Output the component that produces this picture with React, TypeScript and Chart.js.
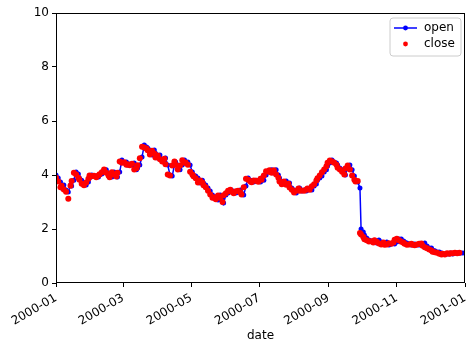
import React, { useEffect, useRef } from "react";
import { Chart, registerables } from "chart.js";

Chart.register(...registerables);

// Day offsets from 2000-01-01
const days = [0,2,4,5,7,9,11,13,14,16,18,20,21,23,25,27,29,30,32,34,36,38,39,41,43,45,47,48,50,52,54,55,57,59,61,63,64,66,68,70,72,73,75,77,79,81,82,84,86,88,89,91,93,95,97,98,100,102,104,106,107,109,111,113,115,116,118,120,122,123,125,127,129,131,132,134,136,138,140,141,143,145,147,149,150,152,154,156,157,159,161,163,165,166,168,170,172,174,175,177,179,181,183,184,186,188,190,191,193,195,197,199,200,202,204,206,208,209,211,213,215,217,218,220,222,224,225,227,229,231,233,234,236,238,240,242,243,245,247,249,251,252,254,256,258,259,261,263,265,267,268,270,272,273,275,276,278,280,282,284,285,287,289,291,293,294,296,298,300,302,303,305,307,309,311,312,314,316,318,319,321,323,325,327,328,330,332,334,336,337,339,341,343,345,346,348,350,352,353,355,357,359,361,362,364];

const openValues = [4.0,3.89,3.74,3.52,3.63,3.44,3.37,3.63,3.59,3.81,4.11,4.04,3.89,3.81,3.70,3.63,3.74,3.89,4.0,3.96,3.96,3.93,4.0,4.04,4.11,4.19,4.07,3.96,3.93,4.11,4.0,3.93,4.11,4.56,4.44,4.48,4.37,4.41,4.37,4.44,4.19,4.26,4.37,4.67,5.11,5.04,5.0,4.93,4.74,4.93,4.81,4.63,4.74,4.56,4.48,4.63,4.37,4.0,3.96,4.37,4.48,4.37,4.19,4.37,4.56,4.44,4.48,4.37,4.11,4.0,3.96,3.89,3.70,3.81,3.70,3.63,3.52,3.41,3.26,3.15,3.19,3.07,3.26,3.15,2.96,3.26,3.33,3.44,3.44,3.37,3.33,3.41,3.44,3.33,3.26,3.59,3.89,3.81,3.74,3.74,3.81,3.78,3.74,3.89,3.81,4.0,4.15,4.11,4.19,4.07,4.19,4.0,3.89,3.74,3.67,3.78,3.63,3.70,3.52,3.44,3.33,3.44,3.52,3.41,3.44,3.41,3.44,3.52,3.44,3.59,3.67,3.81,3.89,3.96,4.11,4.19,4.33,4.44,4.56,4.48,4.44,4.37,4.26,4.19,4.11,4.0,4.26,4.37,4.19,3.96,3.81,3.74,3.52,2.0,1.89,1.78,1.67,1.59,1.56,1.52,1.56,1.48,1.59,1.52,1.44,1.44,1.52,1.41,1.44,1.48,1.44,1.52,1.63,1.63,1.56,1.52,1.48,1.44,1.41,1.44,1.44,1.41,1.41,1.44,1.44,1.48,1.37,1.30,1.30,1.22,1.19,1.15,1.15,1.11,1.07,1.07,1.07,1.07,1.11,1.07,1.11,1.11,1.11,1.11,1.11];

const closeValues = [3.9,3.76,3.55,3.6,3.46,3.38,3.12,3.6,3.78,4.08,4.02,3.9,3.82,3.68,3.62,3.72,3.86,3.98,3.95,3.97,3.92,3.98,4.03,4.1,4.2,4.08,3.98,3.92,4.1,4.02,3.94,4.08,4.5,4.45,4.47,4.38,4.4,4.36,4.42,4.2,4.25,4.36,4.62,5.05,5.02,4.98,4.92,4.76,4.9,4.8,4.65,4.72,4.58,4.5,4.6,4.4,4.02,3.98,4.35,4.5,4.38,4.2,4.35,4.55,4.45,4.46,4.38,4.12,4.02,3.95,3.88,3.72,3.8,3.72,3.62,3.55,3.42,3.28,3.16,3.18,3.1,3.24,3.16,3.0,3.25,3.32,3.42,3.45,3.38,3.32,3.4,3.42,3.35,3.28,3.55,3.86,3.82,3.76,3.73,3.8,3.79,3.75,3.86,3.82,3.98,4.14,4.12,4.18,4.08,4.18,4.02,3.9,3.76,3.66,3.76,3.64,3.68,3.54,3.45,3.35,3.42,3.5,3.42,3.43,3.42,3.45,3.5,3.45,3.58,3.66,3.8,3.88,3.98,4.1,4.2,4.32,4.45,4.54,4.5,4.45,4.38,4.27,4.2,4.12,4.02,4.24,4.35,4.2,3.98,3.82,3.76,3.78,1.85,1.8,1.7,1.62,1.58,1.54,1.55,1.5,1.58,1.53,1.46,1.43,1.5,1.42,1.43,1.47,1.45,1.5,1.6,1.64,1.58,1.53,1.49,1.45,1.42,1.43,1.45,1.42,1.4,1.43,1.45,1.46,1.38,1.32,1.29,1.24,1.2,1.16,1.14,1.12,1.08,1.06,1.08,1.06,1.1,1.08,1.1,1.1,1.12,1.1,1.12];

const tickDays = [0, 60, 121, 182, 244, 305, 366];
const tickLabels = ["2000-01", "2000-03", "2000-05", "2000-07", "2000-09", "2000-11", "2001-01"];
const yTicks = [0, 2, 4, 6, 8, 10];

const FONT = "'DejaVu Sans', sans-serif";

const framePlugin = {
  id: "frameAndLegend",
  afterDraw(chart: any) {
    const { ctx, chartArea } = chart;
    ctx.save();
    ctx.strokeStyle = "#000";
    ctx.lineWidth = 1;
    ctx.strokeRect(
      Math.round(chartArea.left) + 0.5,
      Math.round(chartArea.top) + 0.5,
      Math.round(chartArea.right - chartArea.left) - 1,
      Math.round(chartArea.bottom - chartArea.top) - 1
    );
    // legend box
    const bx = 390, by = 18, bw = 71, bh = 38, r = 3;
    ctx.fillStyle = "rgba(255,255,255,0.8)";
    ctx.strokeStyle = "#cccccc";
    ctx.beginPath();
    ctx.moveTo(bx + r, by);
    ctx.lineTo(bx + bw - r, by);
    ctx.quadraticCurveTo(bx + bw, by, bx + bw, by + r);
    ctx.lineTo(bx + bw, by + bh - r);
    ctx.quadraticCurveTo(bx + bw, by + bh, bx + bw - r, by + bh);
    ctx.lineTo(bx + r, by + bh);
    ctx.quadraticCurveTo(bx, by + bh, bx, by + bh - r);
    ctx.lineTo(bx, by + r);
    ctx.quadraticCurveTo(bx, by, bx + r, by);
    ctx.closePath();
    ctx.fill();
    ctx.stroke();
    // open entry
    ctx.strokeStyle = "#0000ff";
    ctx.lineWidth = 1.5;
    ctx.beginPath();
    ctx.moveTo(394, 28);
    ctx.lineTo(417, 28);
    ctx.stroke();
    ctx.fillStyle = "#0000ff";
    ctx.beginPath();
    ctx.arc(405.5, 28, 2.4, 0, Math.PI * 2);
    ctx.fill();
    // close entry
    ctx.fillStyle = "#ff0000";
    ctx.beginPath();
    ctx.arc(405.5, 44, 2.4, 0, Math.PI * 2);
    ctx.fill();
    ctx.fillStyle = "#000";
    ctx.font = `12px ${FONT}`;
    ctx.textBaseline = "middle";
    ctx.textAlign = "left";
    ctx.fillText("open", 424, 28);
    ctx.fillText("close", 424, 44);
    ctx.restore();
  },
};

export default function App() {
  const ref = useRef<HTMLCanvasElement | null>(null);
  useEffect(() => {
    if (!ref.current) return;
    const chart = new Chart(ref.current, {
      type: "line",
      data: {
        datasets: [
          {
            label: "open",
            order: 1,
            data: days.map((d, i) => ({ x: d, y: openValues[i] })),
            borderColor: "#0000ff",
            backgroundColor: "#0000ff",
            borderWidth: 1.5,
            pointRadius: 2.5,
            pointBorderWidth: 0,
            pointBackgroundColor: "#0000ff",
            tension: 0,
          },
          {
            label: "close",
            order: 0,
            data: days.map((d, i) => ({ x: d, y: closeValues[i] })),
            showLine: false,
            borderColor: "#ff0000",
            backgroundColor: "#ff0000",
            pointRadius: 3,
            pointBorderWidth: 0,
            pointBackgroundColor: "#ff0000",
          },
        ],
      },
      options: {
        animation: false,
        responsive: false,
        maintainAspectRatio: false,
        layout: { padding: { left: 0, right: 9, top: 13, bottom: 0 } },
        plugins: {
          legend: { display: false },
          tooltip: { enabled: false },
        },
        scales: {
          x: {
            type: "linear",
            min: 0,
            max: 366,
            afterBuildTicks: (scale: any) => {
              scale.ticks = tickDays.map((v) => ({ value: v }));
            },
            afterFit: (scale: any) => {
              scale.height = 66;
              scale.paddingLeft = 0;
              scale.paddingRight = 0;
            },
            grid: {
              drawOnChartArea: false,
              drawTicks: true,
              tickLength: 4,
              color: "#000",
            },
            border: { display: false },
            ticks: {
              color: "#000",
              font: { family: FONT, size: 12 },
              minRotation: 30,
              maxRotation: 30,
              padding: 4,
              autoSkip: false,
              callback: (v: any) => {
                const i = tickDays.indexOf(Number(v));
                return i >= 0 ? tickLabels[i] : "";
              },
            },
            title: {
              display: true,
              text: "date",
              color: "#000",
              font: { family: FONT, size: 12 },
              padding: { top: 0, bottom: 6 },
            },
          },
          y: {
            min: 0,
            max: 10,
            afterBuildTicks: (scale: any) => {
              scale.ticks = yTicks.map((v) => ({ value: v }));
            },
            afterFit: (scale: any) => {
              scale.width = 56;
              scale.paddingTop = 0;
              scale.paddingBottom = 0;
            },
            grid: {
              drawOnChartArea: false,
              drawTicks: true,
              tickLength: 4,
              color: "#000",
            },
            border: { display: false },
            ticks: {
              color: "#000",
              font: { family: FONT, size: 12 },
              padding: 3,
            },
          },
        },
      },
      plugins: [framePlugin],
    });
    return () => chart.destroy();
  }, []);
  return (
    <div style={{ position: "fixed", left: 0, top: 0, width: 474, height: 349, background: "#fff" }}>
      <canvas ref={ref} width={474} height={349} style={{ width: 474, height: 349 }} />
    </div>
  );
}
